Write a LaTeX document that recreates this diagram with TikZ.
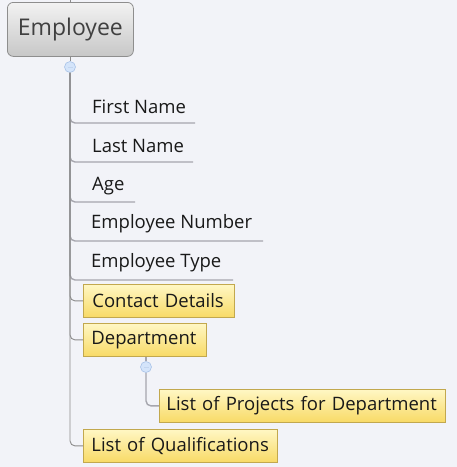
\documentclass[tikz,border=0pt]{standalone}
\usepackage{fontspec}
\setmainfont{Open Sans}
\usetikzlibrary{shadows}
\definecolor{bg}{HTML}{F2F3F8}
\definecolor{trunk}{HTML}{8C8C8C}
\definecolor{uline}{HTML}{A6A6AE}
\definecolor{ybord}{HTML}{C2A84E}
\definecolor{ytop}{HTML}{FFF7C4}
\definecolor{ybot}{HTML}{F8DA66}
\definecolor{gbord}{HTML}{8E8E8E}
\definecolor{ctl}{HTML}{D4E4FA}
\definecolor{ctlb}{HTML}{A9C3E8}
\begin{document}
\begin{tikzpicture}[x=1pt,y=-1pt,
  txt/.style={anchor=base west,inner sep=0pt,font=\fontsize{18.5}{21}\selectfont,text=black!90},
  ybox/.style={anchor=north west,draw=ybord,line width=0.8pt,top color=ytop,bottom color=ybot,
     inner sep=0pt,minimum height=33pt,align=left,text=black!90,
     font=\fontsize{18.5}{21}\selectfont},
  branch/.style={draw=trunk,line width=0.9pt,rounded corners=5pt},
  under/.style={draw=uline,line width=1.4pt,rounded corners=5pt},
  ctlc/.style={circle,fill=ctl,draw=ctlb,line width=0.6pt,minimum size=11pt,inner sep=0pt}]
\fill[bg] (0,0) rectangle (457,467);
\useasboundingbox (0,0) rectangle (457,467);
% root
\node[anchor=north west,draw=gbord,line width=0.8pt,rounded corners=6pt,
  top color=white!95!black,bottom color=black!22,minimum width=126pt,minimum height=54pt,
  inner sep=0pt,text=black!75,font=\fontsize{23}{26}\selectfont] (emp) at (7,2) {Employee};
\coordinate (top) at (70,0);
\node[ctlc] (c1) at (70,67) {};
\draw[ctlb!70!white,line width=1pt] (67.5,67) -- (72.5,67);
\draw[branch] (emp.north -| top) -- (top);
\draw[branch] (emp.south -| c1) -- (c1);
% plain items
\node[txt] (fn) at (92,113) {First Name};
\node[txt] (ln) at (92,152) {Last Name};
\node[txt] (age) at (92,190) {Age};
\node[txt] (en) at (91,228) {Employee Number};
\node[txt] (et) at (91,267) {Employee Type};
\coordinate (fne) at (195,123);
\coordinate (lne) at (193,162);
\coordinate (agee) at (135,202);
\coordinate (ene) at (263,241);
\coordinate (ete) at (233,280);
\foreach \e in {fne,lne,agee,ene,ete}{
  \draw[under] (c1.south) |- (\e);
}
% boxes
\node[ybox,minimum width=151pt,text width=151pt] (cd) at (83,284) {\hspace*{9pt}Contact Details};
\node[ybox,minimum width=123pt,text width=123pt] (dep) at (83,323) {\hspace*{8pt}Department};
\node[ybox,minimum width=286pt,text width=286pt] (lp) at (159,389) {\hspace*{7pt}List of Projects for Department};
\node[ybox,minimum width=194pt,text width=194pt] (lq) at (83,429) {\hspace*{8pt}List of Qualifications};
\draw[branch] (c1.south) |- (cd.west);
\draw[branch] (c1.south) |- (dep.west);
\draw[branch] (c1.south) |- (lq.west);
\node[ctlc] (c2) at (146,367) {};
\draw[ctlb!70!white,line width=1pt] (143.5,367) -- (148.5,367);
\draw[draw=uline,line width=1.4pt] (c2 |- dep.south) -- (c2.north);
\draw[draw=uline,line width=1.4pt,rounded corners=5pt] (c2.south) |- (lp.west);
\end{tikzpicture}
\end{document}
